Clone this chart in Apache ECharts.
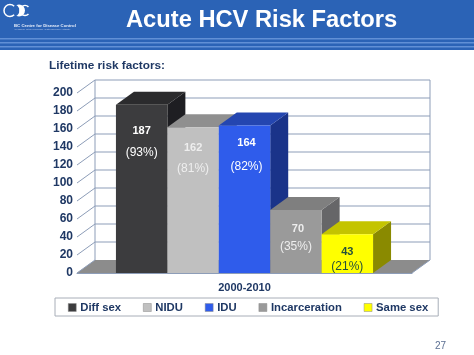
<!DOCTYPE html>
<html>
<head>
<meta charset="utf-8">
<style>html,body{margin:0;padding:0;background:#fff}#c{width:474px;height:355px}</style>
<script src="https://cdn.jsdelivr.net/npm/echarts@6/dist/echarts.min.js"></script>
</head>
<body>
<div id="c"></div>
<script>
const categories = ['2000-2010'];
const seriesNames = ['Diff sex', 'NIDU', 'IDU', 'Incarceration', 'Same sex'];
const seriesValues = [187, 162, 164, 70, 43];
const seriesPercents = ['(93%)', '(81%)', '(82%)', '(35%)', '(21%)'];
const yTicks = [0, 20, 40, 60, 80, 100, 120, 140, 160, 180, 200];

const faceColors = ['#3c3c3e', '#c0c0c0', '#2f5ceb', '#9a9a9a', '#ffff00'];
const topColors = ['#2b2b2d', '#8f8f8f', '#2446b0', '#7f7f7f', '#c4c400'];
const sideColors = ['#1e1e22', '#777777', '#1a3389', '#666668', '#8a8a00'];
const labelColors = ['#ffffff', '#eeeeee', '#ffffff', '#eeeeee', '#24503c'];
const labelNudges = [[0, 26, 0, 48], [0, 21, 0, 41], [2, 18, 2, 41], [2, 19, 0, 37], [0, 18, 0, 32]];

const NAVY = '#1f3864', GRID = '#8d9db8', HEADER = '#2b63b6';
const DX = 18, DY = -13, BAR_SHARE = 0.1535;

function wallItem(params, api) {
  const y0 = api.coord([0, 0])[1];
  const yTop = api.coord([0, yTicks[yTicks.length - 1]])[1];
  const band = api.size([1, 0])[0];
  const xC = api.coord([0, 0])[0];
  const xL = xC - band / 2, xR = xC + band / 2;
  const kids = [];
  kids.push({type: 'polygon', shape: {points: [[xL, y0], [xL + DX, y0 + DY], [xR + DX, y0 + DY], [xR, y0]]},
    style: {fill: '#8c8c8c'}});
  const line = (a, b, c, d) => ({type: 'line', shape: {x1: a, y1: b, x2: c, y2: d}, style: {stroke: GRID, lineWidth: 1}});
  yTicks.forEach(t => {
    const y = api.coord([0, t])[1];
    if (t > 0) kids.push(line(xL + DX, y + DY, xR + DX, y + DY));
    kids.push(line(xL, y, xL + DX, y + DY));
  });
  kids.push(line(xL + DX, y0 + DY, xL + DX, yTop + DY));
  kids.push(line(xR + DX, y0 + DY, xR + DX, yTop + DY));
  kids.push(line(xR, y0, xR + DX, y0 + DY));
  return {type: 'group', children: kids};
}

function barItem(i) {
  return function (params, api) {
    const band = api.size([1, 0])[0];
    const w = band * BAR_SHARE;
    const xC = api.coord([0, 0])[0];
    const x0 = xC + (i - (seriesNames.length - 1) / 2) * w - w / 2;
    const x1 = x0 + w;
    const yB = api.coord([0, 0])[1];
    const yT = api.coord([0, api.value(1)])[1];
    const n = labelNudges[i];
    const mid = (x0 + x1) / 2;
    return {type: 'group', children: [
      {type: 'polygon', shape: {points: [[x1, yB], [x1 + DX, yB + DY], [x1 + DX, yT + DY], [x1, yT]]}, style: {fill: sideColors[i]}},
      {type: 'polygon', shape: {points: [[x0, yT], [x0 + DX, yT + DY], [x1 + DX, yT + DY], [x1, yT]]}, style: {fill: topColors[i]}},
      {type: 'rect', shape: {x: x0, y: yT, width: w, height: yB - yT}, style: {fill: faceColors[i]}},
      {type: 'text', style: {x: mid + n[0], y: yT + n[1], text: String(seriesValues[i]), fill: labelColors[i],
        font: 'bold 11px "Liberation Sans"', align: 'center', verticalAlign: 'middle'}},
      {type: 'text', style: {x: mid + n[2], y: yT + n[3], text: seriesPercents[i], fill: labelColors[i],
        font: '12px "Liberation Sans"', align: 'center', verticalAlign: 'middle'}}
    ]};
  };
}

const series = [{
  name: 'walls', type: 'custom', silent: true, z: 1, clip: false,
  renderItem: wallItem, data: [[0, 0]], encode: {x: 0, y: 1}
}];
seriesNames.forEach((name, i) => {
  series.push({
    name, type: 'custom', z: 2 + i, clip: false, renderItem: barItem(i),
    itemStyle: {color: faceColors[i]},
    data: [[0, seriesValues[i]]], encode: {x: 0, y: 1}
  });
});

const stripes = [38, 42, 46].map(y => ({type: 'rect', shape: {x: 0, y, width: 474, height: 1.4},
  style: {fill: '#6190d6'}, silent: true}));
const logoC = (cx, r) => ({type: 'arc', shape: {cx, cy: 10.5, r, startAngle: 0.8, endAngle: 5.48},
  style: {stroke: '#ffffff', lineWidth: 1.5, fill: null}, silent: true});
const logoDisc = (cx, r, fill) => ({type: 'circle', shape: {cx, cy: 10.5, r}, style: {fill}, silent: true});

const chart = echarts.init(document.getElementById('c'), null, {renderer: 'canvas'});
chart.setOption({
  animation: false,
  backgroundColor: '#ffffff',
  textStyle: {fontFamily: '"Liberation Sans", Arial, sans-serif'},
  grid: {left: 77, right: 62, top: 93, bottom: 82, containLabel: false},
  xAxis: {
    type: 'category', data: categories,
    axisLine: {show: true, lineStyle: {color: GRID, width: 1}},
    axisTick: {show: false},
    axisLabel: {color: NAVY, fontWeight: 'bold', fontSize: 11, margin: 9}
  },
  yAxis: {
    type: 'value', min: 0, max: 200, interval: 20,
    axisLine: {show: false},
    axisTick: {show: false},
    splitLine: {show: false},
    axisLabel: {color: NAVY, fontWeight: 'bold', fontSize: 12, margin: 4, padding: [3, 0, 0, 0]}
  },
  legend: {
    data: seriesNames, left: 55, top: 298, orient: 'horizontal',
    icon: 'rect', itemWidth: 8, itemHeight: 8, itemGap: 22, itemStyle: {borderColor: '#8a8a8a', borderWidth: 0.5},
    padding: [4, 10, 3, 13], borderColor: '#a8aeb8', borderWidth: 1,
    selectedMode: false,
    textStyle: {color: NAVY, fontWeight: 'bold', fontSize: 11.3, padding: [0, 0, 0, -1]}
  },
  graphic: [
    {type: 'rect', shape: {x: 0, y: 0, width: 474, height: 50}, style: {fill: HEADER}, silent: true, z: 0},
    ...stripes,
    logoDisc(19, 6, '#ffffff'), logoDisc(13, 6.5, HEADER),
    logoC(10, 6), logoC(25, 5),
    {type: 'text', left: 14, top: 24, style: {text: 'BC Centre for Disease Control', fill: '#e8eefa', font: 'bold 4.3px "Liberation Sans"'}},
    {type: 'text', left: 14, top: 28, style: {text: 'An agency of the Provincial Health Services Authority', fill: '#b7c9ea', font: '2.4px "Liberation Sans"'}},
    {type: 'text', left: 126, top: 8, style: {text: 'Acute HCV Risk Factors', fill: '#ffffff', font: 'bold 23.7px "Liberation Sans"'}},
    {type: 'text', left: 49, top: 60, style: {text: 'Lifetime risk factors:', fill: NAVY, font: 'bold 11.8px "Liberation Sans"'}},
    {type: 'text', left: 435, top: 341, style: {text: '27', fill: '#5b6f92', font: '10px "Liberation Sans"'}}
  ],
  series
});
</script>
</body>
</html>
